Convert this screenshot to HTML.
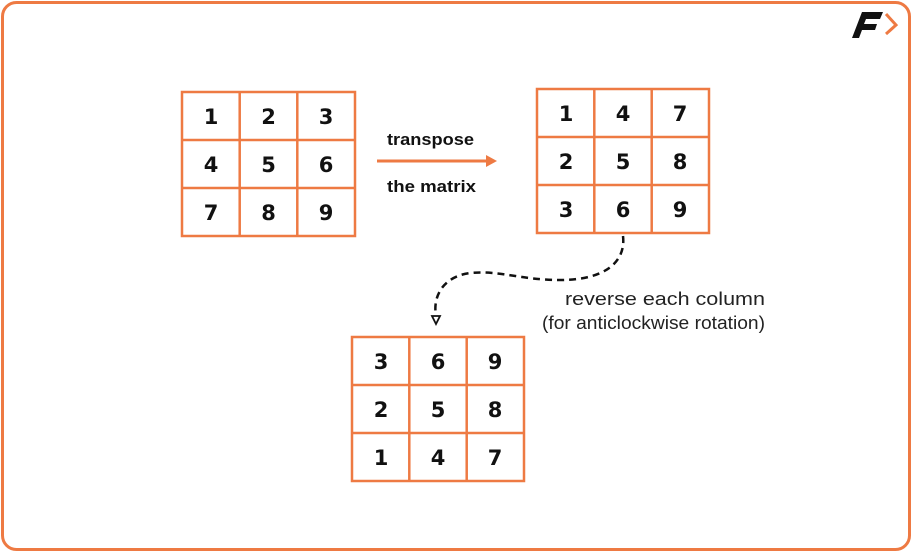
<!DOCTYPE html>
<html><head><style>
body{margin:0;width:912px;height:552px;background:#fff;overflow:hidden;font-family:"Liberation Sans",sans-serif}
</style></head><body>
<svg width="912" height="552" xmlns="http://www.w3.org/2000/svg">
<rect x="2.5" y="2.5" width="907" height="547" rx="14" fill="#fff" stroke="#EE7A43" stroke-width="3"/>
<g font-family="DejaVu Sans, sans-serif" font-weight="bold" font-size="21" text-anchor="middle" fill="#111">
<g transform="translate(182,92)">
<rect x="0" y="0" width="173" height="144" fill="none" stroke="#EE7A43" stroke-width="2.5"/>
<path d="M57.7 0V144M115.3 0V144M0 48H173M0 96H173" stroke="#EE7A43" stroke-width="2.5"/>
<text x="29" y="32">1</text><text x="86.5" y="32">2</text><text x="144" y="32">3</text>
<text x="29" y="80">4</text><text x="86.5" y="80">5</text><text x="144" y="80">6</text>
<text x="29" y="128">7</text><text x="86.5" y="128">8</text><text x="144" y="128">9</text>
</g>
<g transform="translate(537,89)">
<rect x="0" y="0" width="172" height="144" fill="none" stroke="#EE7A43" stroke-width="2.5"/>
<path d="M57.3 0V144M114.7 0V144M0 48H172M0 96H172" stroke="#EE7A43" stroke-width="2.5"/>
<text x="29" y="32">1</text><text x="86" y="32">4</text><text x="143" y="32">7</text>
<text x="29" y="80">2</text><text x="86" y="80">5</text><text x="143" y="80">8</text>
<text x="29" y="128">3</text><text x="86" y="128">6</text><text x="143" y="128">9</text>
</g>
<g transform="translate(352,337)">
<rect x="0" y="0" width="172" height="144" fill="none" stroke="#EE7A43" stroke-width="2.5"/>
<path d="M57.3 0V144M114.7 0V144M0 48H172M0 96H172" stroke="#EE7A43" stroke-width="2.5"/>
<text x="29" y="32">3</text><text x="86" y="32">6</text><text x="143" y="32">9</text>
<text x="29" y="80">2</text><text x="86" y="80">5</text><text x="143" y="80">8</text>
<text x="29" y="128">1</text><text x="86" y="128">4</text><text x="143" y="128">7</text>
</g>
</g>
<text x="387" y="145" font-size="17" font-weight="bold" fill="#111" textLength="87" lengthAdjust="spacingAndGlyphs">transpose</text>
<text x="387" y="192" font-size="17" font-weight="bold" fill="#111" textLength="89" lengthAdjust="spacingAndGlyphs">the matrix</text>
<line x1="377" y1="161" x2="488" y2="161" stroke="#EE7A43" stroke-width="3"/>
<path d="M486 155L497 161L486 167Z" fill="#EE7A43"/>
<path d="M623 236C626 262 605 280 560 280C520 280 500 270 470 273C440 277 433 300 436 315" fill="none" stroke="#111" stroke-width="2.5" stroke-dasharray="7,5"/>
<path d="M432 316L440 316L436 324Z" fill="none" stroke="#111" stroke-width="1.8"/>
<text x="565" y="305" font-size="18" fill="#222" textLength="200" lengthAdjust="spacingAndGlyphs">reverse each column</text>
<text x="542" y="329" font-size="18" fill="#222" textLength="223" lengthAdjust="spacingAndGlyphs">(for anticlockwise rotation)</text>
<path d="M862 12H883L880 19H866L864 24H877L875 30H862L859 38H852Z" fill="#111"/>
<path d="M886 14L896 25L886 34" fill="none" stroke="#EE7A43" stroke-width="3"/>
</svg>
</body></html>
